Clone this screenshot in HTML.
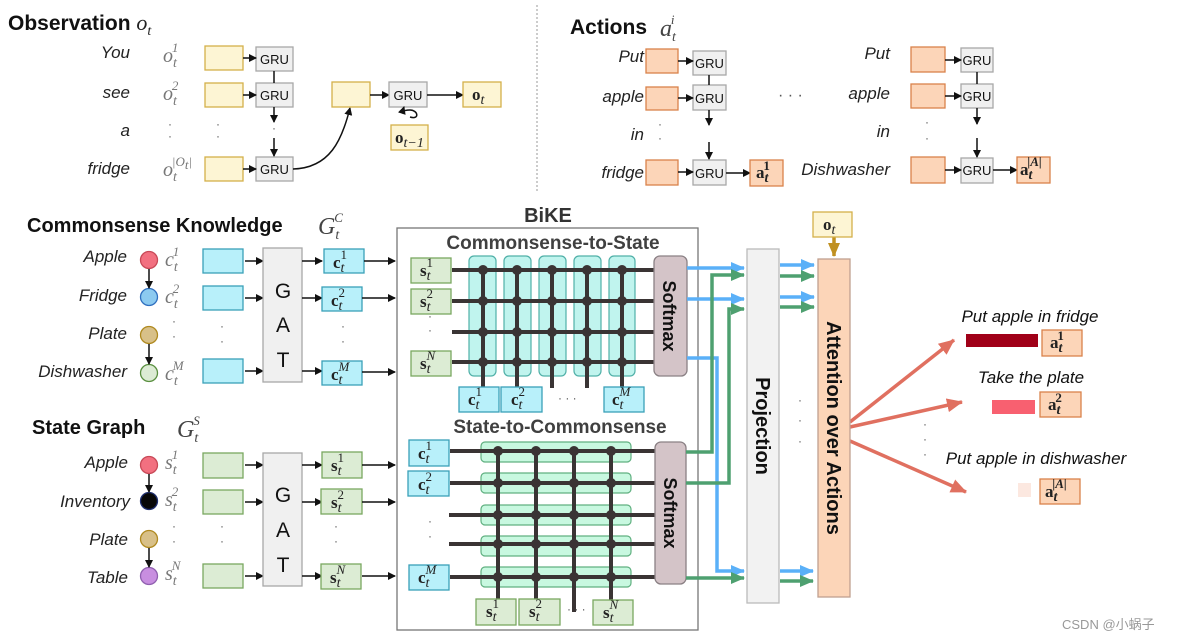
<!DOCTYPE html>
<html><head><meta charset="utf-8"><style>
body{margin:0;background:#fff}
svg{display:block}
.w{font-family:"Liberation Sans",sans-serif;font-style:italic;font-size:17px;fill:#222;text-anchor:end}
.m{font-family:"Liberation Serif",serif;font-style:italic;font-size:20px;fill:#777}
.v{font-family:"Liberation Serif",serif;font-weight:bold;font-size:17px;fill:#222}
.g{font-family:"Liberation Sans",sans-serif;font-size:13px;fill:#111;text-anchor:middle}
.t{font-family:"Liberation Sans",sans-serif;font-weight:bold;font-size:21px;fill:#111}
.sup{font-size:13px}
.sub{font-size:14px}
.yb{fill:#fdf5d4;stroke:#d4b04a;stroke-width:1.3}
.ob{fill:#fcd5b8;stroke:#d9824b;stroke-width:1.3}
.gr{fill:#f0f0f0;stroke:#a8a8a8;stroke-width:1.3}
.cb{fill:#b8f0fa;stroke:#3aa0b8;stroke-width:1.3}
.sb{fill:#dcecd4;stroke:#7aa860;stroke-width:1.3}
.ln{stroke:#111;stroke-width:1.5;fill:none}
.dk{stroke:#3a3434;stroke-width:4;fill:none}
.dt{fill:#555;font-family:"Liberation Sans",sans-serif;font-size:12px}
</style></head><body>
<svg width="1177" height="640" viewBox="0 0 1177 640" xmlns="http://www.w3.org/2000/svg">
<defs>
<marker id="a" markerWidth="8" markerHeight="8" refX="7" refY="4" orient="auto" markerUnits="userSpaceOnUse"><path d="M0,0 L8,4 L0,8z" fill="#111"/></marker>
<marker id="ab" markerWidth="14" markerHeight="12" refX="13" refY="6" orient="auto" markerUnits="userSpaceOnUse"><path d="M0,0 L14,6 L0,12z" fill="#5ab0f8"/></marker>
<marker id="ag" markerWidth="14" markerHeight="12" refX="13" refY="6" orient="auto" markerUnits="userSpaceOnUse"><path d="M0,0 L14,6 L0,12z" fill="#4ea070"/></marker>
<marker id="ar" markerWidth="16" markerHeight="14" refX="15" refY="7" orient="auto" markerUnits="userSpaceOnUse"><path d="M0,0 L16,7 L0,14z" fill="#e07060"/></marker>
<marker id="ay" markerWidth="14" markerHeight="12" refX="13" refY="6" orient="auto" markerUnits="userSpaceOnUse"><path d="M0,0 L14,6 L0,12z" fill="#c09020"/></marker>
</defs>

<!-- Observation -->
<text x="8" y="30" class="t">Observation <tspan class="m" style="fill:#222;font-weight:normal;font-size:22px">o<tspan class="sub" dy="5">t</tspan></tspan></text>
<text x="130" y="58" class="w">You</text>
<text x="130" y="98" class="w">see</text>
<text x="130" y="136" class="w">a</text>
<text x="130" y="174" class="w">fridge</text>
<text x="163" y="62" class="m">o<tspan class="sub" dy="5">t</tspan><tspan class="sup" dx="-5" dy="-15">1</tspan></text>
<text x="163" y="100" class="m">o<tspan class="sub" dy="5">t</tspan><tspan class="sup" dx="-5" dy="-15">2</tspan></text>
<text x="163" y="176" class="m">o<tspan class="sub" dy="5">t</tspan><tspan class="sup" dx="-5" dy="-15">|O</tspan><tspan class="sup" dy="3" font-size="9">t</tspan><tspan class="sup" dy="-3">|</tspan></text>
<text x="168" y="128" class="dt">·</text><text x="168" y="140" class="dt">·</text>
<text x="216" y="128" class="dt">·</text><text x="216" y="140" class="dt">·</text>
<rect x="205" y="46" width="38" height="24" class="yb"/>
<rect x="205" y="83" width="38" height="24" class="yb"/>
<rect x="205" y="157" width="38" height="24" class="yb"/>
<rect x="256" y="47" width="37" height="24" class="gr"/><text x="274.5" y="64" class="g">GRU</text>
<rect x="256" y="83" width="37" height="24" class="gr"/><text x="274.5" y="100" class="g">GRU</text>
<rect x="256" y="157" width="37" height="24" class="gr"/><text x="274.5" y="174" class="g">GRU</text>
<line x1="243" y1="58" x2="256" y2="58" class="ln" marker-end="url(#a)"/>
<line x1="243" y1="95" x2="256" y2="95" class="ln" marker-end="url(#a)"/>
<line x1="243" y1="169" x2="256" y2="169" class="ln" marker-end="url(#a)"/>
<line x1="274" y1="71" x2="274" y2="83" class="ln"/>
<line x1="274" y1="107" x2="274" y2="122" class="ln" marker-end="url(#a)"/>
<text x="272" y="132" class="dt">·</text>
<line x1="274" y1="138" x2="274" y2="156" class="ln" marker-end="url(#a)"/>
<path d="M293,169 C330,168 342,140 350,108" class="ln" marker-end="url(#a)"/>
<rect x="332" y="82" width="38" height="25" class="yb"/>
<line x1="370" y1="95" x2="389" y2="95" class="ln" marker-end="url(#a)"/>
<rect x="389" y="82" width="38" height="25" class="gr"/><text x="408" y="100" class="g">GRU</text>
<line x1="427" y1="95" x2="463" y2="95" class="ln" marker-end="url(#a)"/>
<rect x="463" y="82" width="38" height="25" class="yb"/><text x="472" y="100" class="v">o<tspan class="sub" dy="4" font-style="italic" font-weight="normal">t</tspan></text>
<path d="M410,117 C420,120 418,110 410,110 C403,110 402,113 404,107" class="ln" marker-end="url(#a)"/>
<rect x="391" y="125" width="37" height="25" class="yb"/><text x="395" y="143" class="v">o<tspan class="sub" dy="4" font-style="italic" font-weight="normal">t−1</tspan></text>

<line x1="537" y1="5" x2="537" y2="192" stroke="#999" stroke-width="1" stroke-dasharray="2,2"/>

<!-- Actions -->
<text x="570" y="34" class="t">Actions</text>
<text x="660" y="36" class="m" style="fill:#444;font-size:24px">a<tspan class="sub" dy="5" font-size="15">t</tspan><tspan class="sup" dx="-5" dy="-17" font-size="15">i</tspan></text>
<text x="644" y="62" class="w">Put</text>
<text x="644" y="102" class="w">apple</text>
<text x="644" y="140" class="w">in</text>
<text x="644" y="178" class="w">fridge</text>
<text x="658" y="128" class="dt">·</text><text x="658" y="142" class="dt">·</text>
<rect x="646" y="49" width="32" height="24" class="ob"/>
<rect x="646" y="87" width="32" height="23" class="ob"/>
<rect x="646" y="160" width="32" height="25" class="ob"/>
<rect x="693" y="51" width="33" height="24" class="gr"/><text x="709.5" y="68" class="g">GRU</text>
<rect x="693" y="85" width="33" height="25" class="gr"/><text x="709.5" y="103" class="g">GRU</text>
<rect x="693" y="160" width="33" height="25" class="gr"/><text x="709.5" y="178" class="g">GRU</text>
<line x1="678" y1="61" x2="693" y2="61" class="ln" marker-end="url(#a)"/>
<line x1="678" y1="98" x2="693" y2="98" class="ln" marker-end="url(#a)"/>
<line x1="678" y1="172" x2="693" y2="172" class="ln" marker-end="url(#a)"/>
<line x1="709" y1="75" x2="709" y2="85" class="ln"/>
<line x1="709" y1="110" x2="709" y2="125" class="ln" marker-end="url(#a)"/>
<line x1="709" y1="142" x2="709" y2="159" class="ln" marker-end="url(#a)"/>
<line x1="726" y1="173" x2="750" y2="173" class="ln" marker-end="url(#a)"/>
<rect x="750" y="160" width="33" height="26" class="ob"/><text x="756" y="178" class="v">a<tspan class="sub" dy="4" font-style="italic">t</tspan><tspan class="sup" dx="-5" dy="-12">1</tspan></text>
<text x="778" y="100" class="dt" style="font-size:16px">·  ·  ·</text>
<text x="890" y="59" class="w">Put</text>
<text x="890" y="99" class="w">apple</text>
<text x="890" y="137" class="w">in</text>
<text x="890" y="175" class="w">Dishwasher</text>
<text x="925" y="126" class="dt">·</text><text x="925" y="142" class="dt">·</text>
<rect x="911" y="47" width="34" height="25" class="ob"/>
<rect x="911" y="84" width="34" height="24" class="ob"/>
<rect x="911" y="157" width="34" height="26" class="ob"/>
<rect x="961" y="48" width="32" height="24" class="gr"/><text x="977" y="65" class="g">GRU</text>
<rect x="961" y="84" width="32" height="24" class="gr"/><text x="977" y="101" class="g">GRU</text>
<rect x="961" y="158" width="32" height="25" class="gr"/><text x="977" y="175" class="g">GRU</text>
<line x1="945" y1="60" x2="961" y2="60" class="ln" marker-end="url(#a)"/>
<line x1="945" y1="96" x2="961" y2="96" class="ln" marker-end="url(#a)"/>
<line x1="945" y1="170" x2="961" y2="170" class="ln" marker-end="url(#a)"/>
<line x1="977" y1="72" x2="977" y2="84" class="ln"/>
<line x1="977" y1="108" x2="977" y2="124" class="ln" marker-end="url(#a)"/>
<line x1="977" y1="138" x2="977" y2="157" class="ln" marker-end="url(#a)"/>
<line x1="993" y1="170" x2="1017" y2="170" class="ln" marker-end="url(#a)"/>
<rect x="1017" y="157" width="33" height="26" class="ob"/><text x="1020" y="175" class="v">a<tspan class="sub" dy="4" font-style="italic">t</tspan><tspan class="sup" dx="-5" dy="-13" font-style="italic">|A|</tspan></text>

<!-- Commonsense Knowledge -->
<text x="27" y="232" class="t" style="font-size:20px">Commonsense Knowledge</text>
<text x="318" y="234" class="m" style="fill:#444;font-size:24px">G<tspan class="sub" dy="5" font-size="15">t</tspan><tspan class="sup" dx="-5" dy="-17" font-size="15">C</tspan></text>
<text x="127" y="262" class="w">Apple</text>
<text x="127" y="301" class="w">Fridge</text>
<text x="127" y="339" class="w">Plate</text>
<text x="127" y="377" class="w">Dishwasher</text>
<circle cx="149" cy="260" r="8.5" fill="#f27080" stroke="#c84a58" stroke-width="1.3"/>
<circle cx="149" cy="297" r="8.5" fill="#8ccaf0" stroke="#3070c0" stroke-width="1.3"/>
<circle cx="149" cy="335" r="8.5" fill="#d8c088" stroke="#b08a20" stroke-width="1.3"/>
<circle cx="149" cy="373" r="8.5" fill="#dcebd4" stroke="#5a9040" stroke-width="1.3"/>
<line x1="149" y1="269" x2="149" y2="288" class="ln" marker-end="url(#a)"/>
<line x1="149" y1="344" x2="149" y2="364" class="ln" marker-end="url(#a)"/>
<text x="165" y="266" class="m">c<tspan class="sub" dy="5">t</tspan><tspan class="sup" dx="-5" dy="-15">1</tspan></text>
<text x="165" y="303" class="m">c<tspan class="sub" dy="5">t</tspan><tspan class="sup" dx="-5" dy="-15">2</tspan></text>
<text x="165" y="380" class="m">c<tspan class="sub" dy="5">t</tspan><tspan class="sup" dx="-5" dy="-15">M</tspan></text>
<text x="172" y="325" class="dt">·</text><text x="172" y="340" class="dt">·</text>
<text x="220" y="330" class="dt">·</text><text x="220" y="345" class="dt">·</text>
<text x="341" y="330" class="dt">·</text><text x="341" y="345" class="dt">·</text>
<rect x="203" y="249" width="40" height="24" class="cb"/>
<rect x="203" y="286" width="40" height="24" class="cb"/>
<rect x="203" y="359" width="40" height="24" class="cb"/>
<line x1="245" y1="261" x2="263" y2="261" class="ln" marker-end="url(#a)"/>
<line x1="245" y1="298" x2="263" y2="298" class="ln" marker-end="url(#a)"/>
<line x1="245" y1="371" x2="263" y2="371" class="ln" marker-end="url(#a)"/>
<rect x="263" y="248" width="39" height="134" class="gr"/>
<text x="283" y="298" class="g" style="font-size:21px">G</text>
<text x="283" y="332" class="g" style="font-size:21px">A</text>
<text x="283" y="367" class="g" style="font-size:21px">T</text>
<line x1="302" y1="261" x2="322" y2="261" class="ln" marker-end="url(#a)"/>
<line x1="302" y1="298" x2="322" y2="298" class="ln" marker-end="url(#a)"/>
<line x1="302" y1="371" x2="322" y2="371" class="ln" marker-end="url(#a)"/>
<rect x="324" y="249" width="40" height="24" class="cb"/><text x="333" y="268" class="v">c<tspan class="sub" dy="4" font-style="italic" font-weight="normal">t</tspan><tspan class="sup" dx="-4" dy="-13" font-weight="normal">1</tspan></text>
<rect x="322" y="287" width="40" height="24" class="cb"/><text x="331" y="306" class="v">c<tspan class="sub" dy="4" font-style="italic" font-weight="normal">t</tspan><tspan class="sup" dx="-4" dy="-13" font-weight="normal">2</tspan></text>
<rect x="322" y="361" width="40" height="24" class="cb"/><text x="331" y="380" class="v">c<tspan class="sub" dy="4" font-style="italic" font-weight="normal">t</tspan><tspan class="sup" dx="-4" dy="-13" font-weight="normal" font-style="italic">M</tspan></text>
<line x1="364" y1="261" x2="395" y2="261" class="ln" marker-end="url(#a)"/>
<line x1="362" y1="298" x2="395" y2="298" class="ln" marker-end="url(#a)"/>
<line x1="362" y1="372" x2="395" y2="372" class="ln" marker-end="url(#a)"/>

<!-- State Graph -->
<text x="32" y="434" class="t" style="font-size:20px">State Graph</text>
<text x="177" y="437" class="m" style="fill:#444;font-size:24px">G<tspan class="sub" dy="5" font-size="15">t</tspan><tspan class="sup" dx="-5" dy="-17" font-size="15">S</tspan></text>
<text x="128" y="468" class="w">Apple</text>
<text x="130" y="507" class="w">Inventory</text>
<text x="128" y="545" class="w">Plate</text>
<text x="128" y="583" class="w">Table</text>
<circle cx="149" cy="465" r="8.5" fill="#f27080" stroke="#c84a58" stroke-width="1.3"/>
<circle cx="149" cy="501" r="8.5" fill="#080808" stroke="#203070" stroke-width="1.3"/>
<circle cx="149" cy="539" r="8.5" fill="#d8c088" stroke="#b08a20" stroke-width="1.3"/>
<circle cx="149" cy="576" r="8.5" fill="#c88ee0" stroke="#9060b0" stroke-width="1.3"/>
<line x1="149" y1="474" x2="149" y2="492" class="ln" marker-end="url(#a)"/>
<line x1="149" y1="548" x2="149" y2="567" class="ln" marker-end="url(#a)"/>
<text x="165" y="469" class="m">s<tspan class="sub" dy="5">t</tspan><tspan class="sup" dx="-5" dy="-15">1</tspan></text>
<text x="165" y="506" class="m">s<tspan class="sub" dy="5">t</tspan><tspan class="sup" dx="-5" dy="-15">2</tspan></text>
<text x="165" y="580" class="m">s<tspan class="sub" dy="5">t</tspan><tspan class="sup" dx="-5" dy="-15">N</tspan></text>
<text x="172" y="530" class="dt">·</text><text x="172" y="545" class="dt">·</text>
<text x="220" y="530" class="dt">·</text><text x="220" y="545" class="dt">·</text>
<text x="334" y="530" class="dt">·</text><text x="334" y="545" class="dt">·</text>
<rect x="203" y="453" width="40" height="25" class="sb"/>
<rect x="203" y="490" width="40" height="24" class="sb"/>
<rect x="203" y="564" width="40" height="24" class="sb"/>
<line x1="245" y1="465" x2="263" y2="465" class="ln" marker-end="url(#a)"/>
<line x1="245" y1="502" x2="263" y2="502" class="ln" marker-end="url(#a)"/>
<line x1="245" y1="576" x2="263" y2="576" class="ln" marker-end="url(#a)"/>
<rect x="263" y="453" width="39" height="133" class="gr"/>
<text x="283" y="502" class="g" style="font-size:21px">G</text>
<text x="283" y="537" class="g" style="font-size:21px">A</text>
<text x="283" y="572" class="g" style="font-size:21px">T</text>
<line x1="302" y1="465" x2="322" y2="465" class="ln" marker-end="url(#a)"/>
<line x1="302" y1="502" x2="322" y2="502" class="ln" marker-end="url(#a)"/>
<line x1="302" y1="576" x2="322" y2="576" class="ln" marker-end="url(#a)"/>
<rect x="322" y="452" width="40" height="26" class="sb"/><text x="331" y="471" class="v">s<tspan class="sub" dy="4" font-style="italic" font-weight="normal">t</tspan><tspan class="sup" dx="-4" dy="-13" font-weight="normal">1</tspan></text>
<rect x="321" y="489" width="41" height="25" class="sb"/><text x="331" y="508" class="v">s<tspan class="sub" dy="4" font-style="italic" font-weight="normal">t</tspan><tspan class="sup" dx="-4" dy="-13" font-weight="normal">2</tspan></text>
<rect x="321" y="564" width="40" height="25" class="sb"/><text x="330" y="583" class="v">s<tspan class="sub" dy="4" font-style="italic" font-weight="normal">t</tspan><tspan class="sup" dx="-4" dy="-13" font-weight="normal" font-style="italic">N</tspan></text>
<line x1="362" y1="465" x2="395" y2="465" class="ln" marker-end="url(#a)"/>
<line x1="362" y1="502" x2="395" y2="502" class="ln" marker-end="url(#a)"/>
<line x1="362" y1="576" x2="395" y2="576" class="ln" marker-end="url(#a)"/>

<!-- BiKE -->
<text x="548" y="222" class="t" style="font-size:20px;fill:#333;text-anchor:middle">BiKE</text>
<rect x="397" y="228" width="301" height="402" fill="#fff" stroke="#777" stroke-width="1.3"/>
<text x="553" y="249" class="t" style="font-size:19px;fill:#404040;text-anchor:middle">Commonsense-to-State</text>
<g fill="#c0f4ee" stroke="#50b0a8" stroke-width="1.2">
<rect x="469" y="256" width="27" height="120" rx="5"/><rect x="504" y="256" width="27" height="120" rx="5"/><rect x="539" y="256" width="27" height="120" rx="5"/><rect x="574" y="256" width="27" height="120" rx="5"/><rect x="609" y="256" width="26" height="120" rx="5"/>
</g>
<g class="dk">
<line x1="452" y1="270" x2="656" y2="270"/><line x1="452" y1="301" x2="656" y2="301"/><line x1="452" y1="332" x2="656" y2="332"/><line x1="452" y1="362" x2="656" y2="362"/>
<line x1="483" y1="270" x2="483" y2="388"/><line x1="517" y1="270" x2="517" y2="388"/><line x1="552" y1="270" x2="552" y2="388"/><line x1="587" y1="270" x2="587" y2="388"/><line x1="622" y1="270" x2="622" y2="388"/>
</g>
<g fill="#3a3434">
<circle cx="483" cy="270" r="5"/><circle cx="517" cy="270" r="5"/><circle cx="552" cy="270" r="5"/><circle cx="587" cy="270" r="5"/><circle cx="622" cy="270" r="5"/>
<circle cx="483" cy="301" r="5"/><circle cx="517" cy="301" r="5"/><circle cx="552" cy="301" r="5"/><circle cx="587" cy="301" r="5"/><circle cx="622" cy="301" r="5"/>
<circle cx="483" cy="332" r="5"/><circle cx="517" cy="332" r="5"/><circle cx="552" cy="332" r="5"/><circle cx="587" cy="332" r="5"/><circle cx="622" cy="332" r="5"/>
<circle cx="483" cy="362" r="5"/><circle cx="517" cy="362" r="5"/><circle cx="552" cy="362" r="5"/><circle cx="587" cy="362" r="5"/><circle cx="622" cy="362" r="5"/>
</g>
<rect x="411" y="258" width="40" height="25" class="sb"/><text x="420" y="276" class="v">s<tspan class="sub" dy="4" font-style="italic" font-weight="normal">t</tspan><tspan class="sup" dx="-4" dy="-13" font-weight="normal">1</tspan></text>
<rect x="411" y="289" width="40" height="25" class="sb"/><text x="420" y="307" class="v">s<tspan class="sub" dy="4" font-style="italic" font-weight="normal">t</tspan><tspan class="sup" dx="-4" dy="-13" font-weight="normal">2</tspan></text>
<text x="428" y="320" class="dt">·</text><text x="428" y="334" class="dt">·</text>
<rect x="411" y="351" width="40" height="25" class="sb"/><text x="420" y="369" class="v">s<tspan class="sub" dy="4" font-style="italic" font-weight="normal">t</tspan><tspan class="sup" dx="-4" dy="-13" font-weight="normal" font-style="italic">N</tspan></text>
<rect x="654" y="256" width="33" height="120" rx="6" fill="#d4c4c8" stroke="#8a8084" stroke-width="1.3"/>
<text transform="translate(663,316) rotate(90)" class="t" style="font-size:18px;text-anchor:middle">Softmax</text>
<rect x="459" y="387" width="40" height="25" class="cb"/><text x="468" y="405" class="v">c<tspan class="sub" dy="4" font-style="italic" font-weight="normal">t</tspan><tspan class="sup" dx="-4" dy="-13" font-weight="normal">1</tspan></text>
<rect x="501" y="387" width="41" height="25" class="cb"/><text x="511" y="405" class="v">c<tspan class="sub" dy="4" font-style="italic" font-weight="normal">t</tspan><tspan class="sup" dx="-4" dy="-13" font-weight="normal">2</tspan></text>
<text x="558" y="402" class="dt">· · ·</text>
<rect x="604" y="387" width="40" height="25" class="cb"/><text x="612" y="405" class="v">c<tspan class="sub" dy="4" font-style="italic" font-weight="normal">t</tspan><tspan class="sup" dx="-4" dy="-13" font-weight="normal" font-style="italic">M</tspan></text>

<text x="560" y="433" class="t" style="font-size:19px;fill:#404040;text-anchor:middle">State-to-Commonsense</text>
<g fill="#c8f8e0" stroke="#60b080" stroke-width="1.2">
<rect x="481" y="442" width="150" height="20" rx="4"/><rect x="481" y="473" width="150" height="20" rx="4"/><rect x="481" y="505" width="150" height="20" rx="4"/><rect x="481" y="536" width="150" height="20" rx="4"/><rect x="481" y="567" width="150" height="20" rx="4"/>
</g>
<g class="dk">
<line x1="450" y1="451" x2="656" y2="451"/><line x1="450" y1="483" x2="656" y2="483"/><line x1="449" y1="515" x2="656" y2="515"/><line x1="449" y1="544" x2="656" y2="544"/><line x1="450" y1="577" x2="656" y2="577"/>
<line x1="498" y1="451" x2="498" y2="600"/><line x1="536" y1="451" x2="536" y2="600"/><line x1="574" y1="451" x2="574" y2="612"/><line x1="611" y1="451" x2="611" y2="600"/>
</g>
<g fill="#3a3434">
<circle cx="498" cy="451" r="5"/><circle cx="536" cy="451" r="5"/><circle cx="574" cy="451" r="5"/><circle cx="611" cy="451" r="5"/>
<circle cx="498" cy="483" r="5"/><circle cx="536" cy="483" r="5"/><circle cx="574" cy="483" r="5"/><circle cx="611" cy="483" r="5"/>
<circle cx="498" cy="515" r="5"/><circle cx="536" cy="515" r="5"/><circle cx="574" cy="515" r="5"/><circle cx="611" cy="515" r="5"/>
<circle cx="498" cy="544" r="5"/><circle cx="536" cy="544" r="5"/><circle cx="574" cy="544" r="5"/><circle cx="611" cy="544" r="5"/>
<circle cx="498" cy="577" r="5"/><circle cx="536" cy="577" r="5"/><circle cx="574" cy="577" r="5"/><circle cx="611" cy="577" r="5"/>
</g>
<rect x="409" y="440" width="40" height="26" class="cb"/><text x="418" y="459" class="v">c<tspan class="sub" dy="4" font-style="italic" font-weight="normal">t</tspan><tspan class="sup" dx="-4" dy="-13" font-weight="normal">1</tspan></text>
<rect x="408" y="471" width="41" height="25" class="cb"/><text x="418" y="490" class="v">c<tspan class="sub" dy="4" font-style="italic" font-weight="normal">t</tspan><tspan class="sup" dx="-4" dy="-13" font-weight="normal">2</tspan></text>
<text x="428" y="525" class="dt">·</text><text x="428" y="540" class="dt">·</text>
<rect x="409" y="565" width="40" height="25" class="cb"/><text x="418" y="583" class="v">c<tspan class="sub" dy="4" font-style="italic" font-weight="normal">t</tspan><tspan class="sup" dx="-4" dy="-13" font-weight="normal" font-style="italic">M</tspan></text>
<rect x="655" y="442" width="31" height="142" rx="6" fill="#d4c4c8" stroke="#8a8084" stroke-width="1.3"/>
<text transform="translate(664,513) rotate(90)" class="t" style="font-size:18px;text-anchor:middle">Softmax</text>
<rect x="476" y="599" width="40" height="26" class="sb"/><text x="486" y="617" class="v">s<tspan class="sub" dy="4" font-style="italic" font-weight="normal">t</tspan><tspan class="sup" dx="-4" dy="-13" font-weight="normal">1</tspan></text>
<rect x="519" y="599" width="41" height="26" class="sb"/><text x="529" y="617" class="v">s<tspan class="sub" dy="4" font-style="italic" font-weight="normal">t</tspan><tspan class="sup" dx="-4" dy="-13" font-weight="normal">2</tspan></text>
<text x="567" y="613" class="dt">· · ·</text>
<rect x="593" y="600" width="40" height="25" class="sb"/><text x="603" y="618" class="v">s<tspan class="sub" dy="4" font-style="italic" font-weight="normal">t</tspan><tspan class="sup" dx="-4" dy="-13" font-weight="normal" font-style="italic">N</tspan></text>

<!-- connectors -->
<g fill="none" stroke-width="3.5">
<path d="M687,268 H744" stroke="#5ab0f8" marker-end="url(#ab)"/>
<path d="M687,299 H744" stroke="#5ab0f8" marker-end="url(#ab)"/>
<path d="M687,358 H717 V571 H744" stroke="#5ab0f8" marker-end="url(#ab)"/>
<path d="M686,452 H712 V275 H744" stroke="#4ea070" marker-end="url(#ag)"/>
<path d="M686,483 H729 V309 H744" stroke="#4ea070" marker-end="url(#ag)"/>
<path d="M686,578 H744" stroke="#4ea070" marker-end="url(#ag)"/>
<path d="M780,265 H814" stroke="#5ab0f8" marker-end="url(#ab)"/>
<path d="M780,276 H814" stroke="#4ea070" marker-end="url(#ag)"/>
<path d="M780,297 H814" stroke="#5ab0f8" marker-end="url(#ab)"/>
<path d="M780,307 H814" stroke="#4ea070" marker-end="url(#ag)"/>
<path d="M780,571 H813" stroke="#5ab0f8" marker-end="url(#ab)"/>
<path d="M780,581 H813" stroke="#4ea070" marker-end="url(#ag)"/>
<path d="M834,237 V256" stroke="#c09020" marker-end="url(#ay)"/>
<path d="M850,422 L954,340" stroke="#e07060" marker-end="url(#ar)"/>
<path d="M850,427 L962,402" stroke="#e07060" marker-end="url(#ar)"/>
<path d="M850,441 L966,492" stroke="#e07060" marker-end="url(#ar)"/>
</g>

<rect x="747" y="249" width="32" height="354" fill="#f2f2f2" stroke="#bbb" stroke-width="1.3"/>
<text transform="translate(756,426) rotate(90)" class="t" style="font-size:20px;text-anchor:middle">Projection</text>
<rect x="813" y="212" width="39" height="25" class="yb"/><text x="823" y="230" class="v">o<tspan class="sub" dy="4" font-style="italic" font-weight="normal">t</tspan></text>
<rect x="818" y="259" width="32" height="338" fill="#fcd5b8" stroke="#c0a090" stroke-width="1.3"/>
<text transform="translate(827,428) rotate(90)" class="t" style="font-size:20px;text-anchor:middle">Attention over Actions</text>
<text x="798" y="404" class="dt">·</text><text x="798" y="424" class="dt">·</text><text x="798" y="445" class="dt">·</text>

<!-- right outputs -->
<text x="1030" y="322" class="w" style="text-anchor:middle;fill:#111">Put apple in fridge</text>
<rect x="966" y="334" width="72" height="13" fill="#a00018"/>
<rect x="1042" y="330" width="40" height="26" class="ob"/><text x="1050" y="348" class="v">a<tspan class="sub" dy="4" font-style="italic">t</tspan><tspan class="sup" dx="-5" dy="-12">1</tspan></text>
<text x="1031" y="383" class="w" style="text-anchor:middle;fill:#111">Take the plate</text>
<rect x="992" y="400" width="43" height="14" fill="#f86070"/>
<rect x="1040" y="392" width="41" height="25" class="ob"/><text x="1048" y="410" class="v">a<tspan class="sub" dy="4" font-style="italic">t</tspan><tspan class="sup" dx="-5" dy="-12">2</tspan></text>
<text x="1036" y="464" class="w" style="text-anchor:middle;fill:#111">Put apple in dishwasher</text>
<rect x="1018" y="483" width="13" height="14" fill="#fce8e0"/>
<rect x="1040" y="479" width="40" height="25" class="ob"/><text x="1045" y="497" class="v">a<tspan class="sub" dy="4" font-style="italic">t</tspan><tspan class="sup" dx="-5" dy="-13" font-style="italic">|A|</tspan></text>
<text x="923" y="428" class="dt">·</text><text x="923" y="443" class="dt">·</text><text x="923" y="458" class="dt">·</text>

<text x="1062" y="629" style="font-family:'Liberation Sans','Noto Sans CJK SC',sans-serif;font-size:13px;fill:#999">CSDN @小蜗子</text>
</svg>
</body></html>
